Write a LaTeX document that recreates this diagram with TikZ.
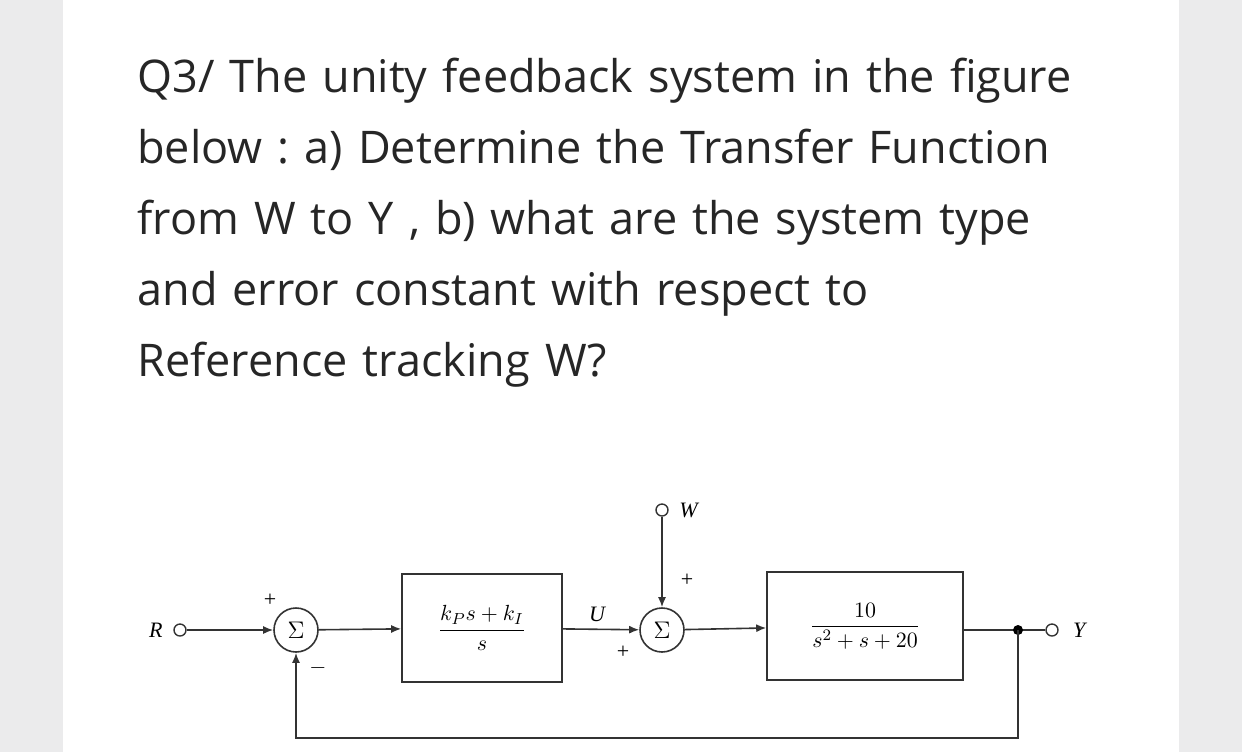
\documentclass[tikz,border=0pt]{standalone}
\usepackage{fontspec}
\setmainfont{Liberation Serif}
\newfontfamily\qfont{Open Sans}
\usetikzlibrary{arrows.meta}
\begin{document}
\frenchspacing
\begin{tikzpicture}[x=0.5pt,y=-0.5pt,
  line/.style={draw=black!80,line width=0.8pt},
  arr/.style={line,-{Latex[length=5pt,width=4pt]}},
  sumc/.style={circle,draw=black!80,line width=0.8pt,minimum size=22pt,inner sep=0pt,font=\fontsize{12}{12}\selectfont},
  blk/.style={draw=black!80,line width=0.8pt,minimum width=#1,minimum height=54pt,inner sep=0pt,font=\fontsize{11}{11}\selectfont},
  term/.style={circle,draw=black!80,line width=0.7pt,minimum size=6pt,inner sep=0pt,fill=white},
  lbl/.style={font=\fontsize{11}{11}\selectfont\itshape},
  sg/.style={font=\fontsize{11}{11}\selectfont}]
\useasboundingbox (0,0) rectangle (1242,752);
\fill[blue!5!black!8] (0,0) rectangle (63,752);
\fill[blue!5!black!8] (1179,0) rectangle (1242,752);
\node[anchor=base west,inner sep=0pt,text=black!85,font=\qfont\fontsize{22.5}{35.5}\selectfont,align=left,text width=580pt] (q) at (137,92)
 {Q3/ The unity feedback system in the figure\\below : a) Determine the Transfer Function\\from W to Y , b) what are the system type\\and error constant with respect to\\Reference tracking W?};
\node[term] (r) at (180,630) {};
\node[lbl,anchor=east] (rl) at (r.west) {R\,};
\node[sumc] (s1) at (296,630) {$\Sigma$};
\node[blk=80pt] (b1) at (482,628) {$\displaystyle\frac{k_P s+k_I}{s}$};
\node[sumc] (s2) at (662,630) {$\Sigma$};
\node[term] (w) at (662,510) {};
\node[lbl,anchor=west] (wl) at (w.east) {\,W};
\node[blk=98pt] (b2) at (865,626) {$\displaystyle\frac{10}{s^2+s+20}$};
\coordinate (d) at (1018,630);
\node[term] (y) at (1052,630) {};
\node[lbl,anchor=west] (yl) at (y.east) {\,\,Y};
\coordinate (fb) at (1018,738);
\draw[arr] (r) -- (s1);
\draw[arr] (s1) -- (b1);
\draw[arr] (b1) -- node[lbl,above,pos=0.45] {U} (s2);
\draw[arr] (w) -- (s2);
\draw[arr] (s2) -- (b2);
\draw[line] (b2.east|-d) -- (y);
\fill (d) circle (2.5pt);
\draw[arr] (d) -- (fb) -| (s1);
\node[sg] at (270,600) {+};
\node[sg] at (318,668) {$-$};
\node[sg] at (687,580) {+};
\node[sg] at (623,652) {+};
\end{tikzpicture}
\end{document}
